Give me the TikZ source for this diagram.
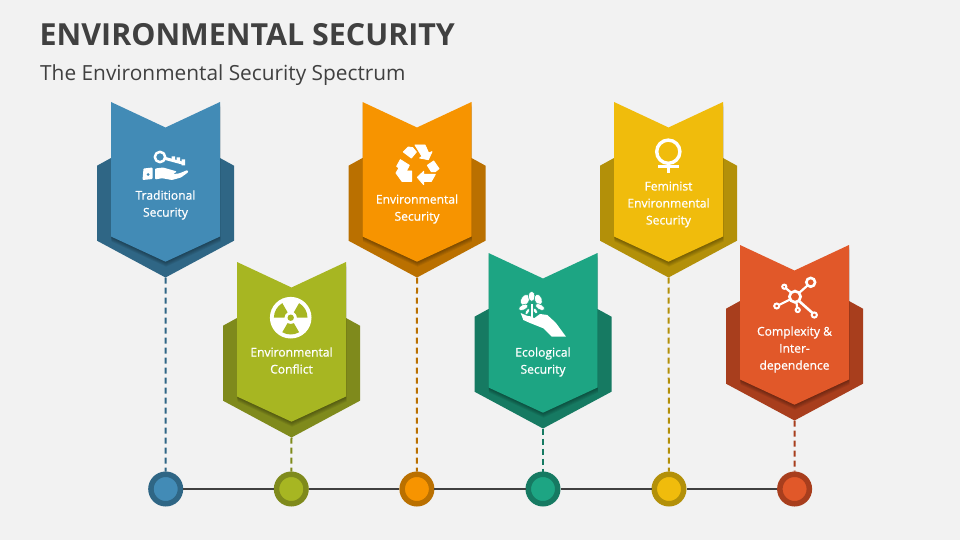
\documentclass[tikz,border=0pt]{standalone}
\usepackage{fontspec}
\setmainfont{Open Sans}
\newfontfamily\cardfont[RawFeature={embolden=0.9}]{Open Sans}
\definecolor{bgc}{HTML}{F2F2F2}
\definecolor{ink}{HTML}{404040}
\definecolor{fa}{HTML}{428BB6}\definecolor{ba}{HTML}{2F6685}
\definecolor{fb}{HTML}{A7B622}\definecolor{bb}{HTML}{7F8A1C}
\definecolor{fc}{HTML}{F79400}\definecolor{bc}{HTML}{BA7000}
\definecolor{fd}{HTML}{1DA583}\definecolor{bd}{HTML}{167A62}
\definecolor{fe}{HTML}{F0BC0C}\definecolor{be}{HTML}{B39009}
\definecolor{ff}{HTML}{E15829}\definecolor{bf}{HTML}{A83E1D}
\tikzset{
  cardtext/.style={text=white,align=center,font=\cardfont\fontsize{12.1}{17}\selectfont,inner sep=0pt},
  dot/.style={circle,draw=#1,line width=5.5pt,minimum size=29.5pt,inner sep=0pt},
  stem/.style={draw=#1,line width=2pt,dash pattern=on 6pt off 4pt},
  axis/.style={draw=ink,line width=2pt},
  ic/.style={white,line join=round},
  leaf/.style={fill=white,draw=fd,line width=.5pt}
}
% #1 name, #2 cx, #3 top y, #4 front, #5 back, #6 text cy, #7 text
\newcommand{\card}[7]{%
  \begin{scope}[shift={(#2,#3)}]
    \fill[#5] (-68.5,63.7) -- (-54.5,56) -- (54.5,56) -- (68.5,63.7) -- (68.5,138.7) -- (0,175.5) -- (-68.5,138.7) -- cycle;
    \foreach \d in {1,2,3,4,5}
      \fill[black,opacity=.07,shift={(.12*\d,\d)}] (-54.5,0) -- (0,25.5) -- (54.5,0) -- (54.5,134.5) -- (0,159.7) -- (-54.5,134.5) -- cycle;
    \fill[#4] (-54.5,0) -- (0,25.5) -- (54.5,0) -- (54.5,134.5) -- (0,159.7) -- (-54.5,134.5) -- cycle;
    \coordinate (#1tip) at (0,175.5);
  \end{scope}
  \node[cardtext] (#1text) at (#2,#6) {#7};
}
\begin{document}
\begin{tikzpicture}[x=1pt,y=-1pt]
\useasboundingbox (0,0) rectangle (960,540);
\fill[bgc] (0,0) rectangle (960,540);
\node[anchor=west,text=ink,inner sep=0pt,font=\fontsize{30.4}{36}\selectfont\bfseries] (title) at (39.5,34.5) {ENVIRONMENTAL SECURITY};
\node[anchor=west,text=ink,inner sep=0pt,font=\fontsize{20.85}{24}\selectfont] (subtitle) at (40,75) {The Environmental Security Spectrum};

\card{a}{165.5}{102}{fa}{ba}{205}{Traditional\\Security}
\card{b}{291.5}{262}{fb}{bb}{360.5}{Environmental\\Conflict}
\card{c}{417}{102}{fc}{bc}{209}{Environmental\\Security}
\card{d}{543}{253}{fd}{bd}{362}{Ecological\\Security}
\card{e}{668.5}{102}{fe}{be}{204.5}{Feminist\\Environmental\\Security}
\card{f}{794.5}{245}{ff}{bf}{349.5}{Complexity \&\\Inter-\\dependence}

\node[dot=ba,fill=fa] (na) at (165.7,489) {};
\node[dot=bb,fill=fb] (nb) at (291.3,489) {};
\node[dot=bc,fill=fc] (nc) at (416.9,489) {};
\node[dot=bd,fill=fd] (nd) at (543,489) {};
\node[dot=be,fill=fe] (ne) at (669,489) {};
\node[dot=bf,fill=ff] (nf) at (794.6,489) {};
\draw[axis] (na) -- (nb); \draw[axis] (nb) -- (nc); \draw[axis] (nc) -- (nd);
\draw[axis] (nd) -- (ne); \draw[axis] (ne) -- (nf);
\draw[stem=ba] (atip) -- (na);
\draw[stem=bb] (btip) -- (nb);
\draw[stem=bc] (ctip) -- (nc);
\draw[stem=bd] (dtip) -- (nd);
\draw[stem=be] (etip) -- (ne);
\draw[stem=bf] (ftip) -- (nf);

% key and hand
\begin{scope}[ic]
  \draw[white,line width=2.5pt] (160,157) circle (5.2);
  \draw[white,line width=3pt] (165.5,158.5) -- (184,163.5);
  \fill (171.5,156.5) rectangle (175,160) (176.5,157.5) rectangle (180,161.5) (181.5,159.5) rectangle (185,165.5);
  \fill[rounded corners=.8pt] (143.5,168.5) -- (152.5,167.5) -- (152.5,179) -- (142.5,180) -- cycle;
  \fill[fa] (148,174.5) circle (1.5);
  \fill[rounded corners=1pt] (155,168.5) -- (163,167.5) -- (170,169.5) -- (177,171.5) -- (173,174) -- (179,173.5) -- (187.5,170) -- (188.5,172) -- (181,177.5) -- (172,180) -- (162,178.2) -- (155,179.5) -- cycle;
\end{scope}
% radiation
\begin{scope}[shift={(290.7,317.7)},x=1pt,y=1pt]
  \fill[white] (0,0) circle (20.8);
  \foreach \a in {30,150,270}
    \fill[fb] (\a-30:6.3) arc (\a-30:\a+30:6.3) -- (\a+30:16.8) arc (\a+30:\a-30:16.8) -- cycle;
  \fill[white] (0,0) circle (5.4);
  \fill[fb] (0,0) circle (3.2);
\end{scope}
% recycle
\begin{scope}[shift={(390,138)},x=.3333pt,y=-.3333pt,ic,draw=white,line width=.9pt]
  \filldraw (40,42) -- (55,27) -- (68,29) -- (79,42) -- (64,60) -- cycle;
  \filldraw (75,21) -- (105,21) -- (116,45) -- (126,41) -- (115,65) -- (89,60) -- (96,55) -- cycle;
  \filldraw (112,82) -- (131,69) -- (147,92) -- (136,101) -- (124,101) -- cycle;
  \filldraw (82,118) -- (101,100) -- (101,109) -- (136,109) -- (124,130) -- (101,130) -- (101,140) -- cycle;
  \filldraw (31,65) -- (58,82) -- (50,97) -- (42,92) -- (46,99) -- (65,99) -- (65,130) -- (36,130) -- (18,105) -- (27,90) -- (20,85) -- cycle;
\end{scope}
% hand and tree
\begin{scope}[shift={(510,285)},x=.3333pt,y=-.3333pt,ic]
  \draw[white,line width=2pt] (65,95) -- (65,58);
  \filldraw[leaf,rotate around={-30:(45,45)}] (45,45) ellipse (12 and 18);
  \filldraw[leaf] (65,34) ellipse (10 and 15);
  \filldraw[leaf,rotate around={20:(85,44)}] (85,44) ellipse (11 and 17);
  \filldraw[leaf,rotate around={60:(90,66)}] (90,66) ellipse (8 and 15);
  \filldraw[leaf,rotate around={-65:(40,67)}] (40,67) ellipse (8 and 15);
  \filldraw[leaf,rotate around={-30:(52,80)}] (52,80) ellipse (5 and 10);
  \filldraw[leaf,rotate around={30:(76,78)}] (76,78) ellipse (5 and 9);
  \draw[white,line width=2pt] (65,98) -- (65,66);
  \fill (32,84) -- (50,92) -- (66,95) -- (72,100) -- (90,87) -- (112,90) -- (137,113) -- (168,155) -- (125,155) -- (100,130) -- (60,114) -- (40,105) -- cycle;
\end{scope}
% venus
\begin{scope}[white,line width=3.4pt]
  \draw (668.3,151.7) circle (11.6);
  \draw (668.3,164) -- (668.3,172.7);
  \draw (658,166.7) -- (678.7,166.7);
\end{scope}
% network
\begin{scope}[white,line width=2pt]
  \draw[line width=2.7pt] (795,296.7) circle (5.6);
  \draw[line width=2.6pt] (810.7,282.3) circle (4.4);
  \draw (784.3,286.7) circle (2.1) (776.7,306) circle (2.5) (797.7,310) circle (2.1) (814.3,315) circle (2.6);
  \draw[line width=2.2pt] (799,293) -- (807.5,285.5);
  \draw[line width=2.2pt] (785.5,288) -- (791,292.5);
  \draw[line width=2.2pt] (779,305) -- (790,299.5);
  \draw[line width=2.2pt] (796.3,302) -- (797.3,308);
  \draw[line width=2.6pt] (799,301) -- (812.5,313);
\end{scope}
\end{tikzpicture}
\end{document}
